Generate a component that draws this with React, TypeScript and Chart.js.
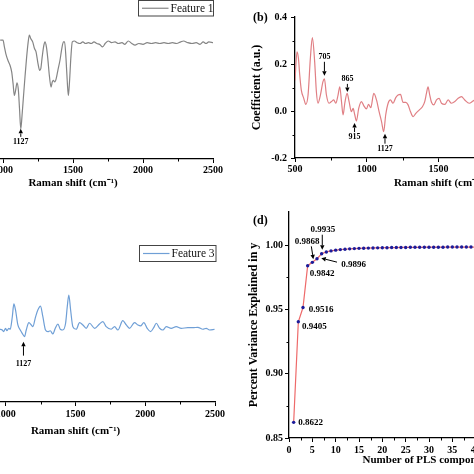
import React, { useEffect, useRef } from "react";
import { Chart, registerables } from "chart.js";
Chart.register(...registerables);

const FONT = "'Liberation Serif','Times New Roman',Times,serif";

// ---------- Panel (a) Feature 1 ----------
const aWave = [980,1000,1010,1020,1035,1050,1062,1072,1081,1090,1100,1110,1118,1127,1136,1146,1158,1169,1180,1188,1198,1212,1225,1236,1250,1262,1270,1280,1292,1300,1310,1320,1331,1343,1352,1360,1370,1380,1392,1407,1420,1432,1440,1450,1460,1467,1475,1485,1495,1510,1530,1550,1570,1590,1610,1630,1650,1670,1690,1712,1730,1752,1775,1800,1824,1850,1870,1895,1920,1943,1970,2000,2030,2060,2090,2120,2150,2180,2210,2240,2270,2290,2320,2350,2380,2407,2430,2450,2470,2500];
const aValue = [0.01,0.01,-0.03,-0.07,-0.11,-0.14,-0.18,-0.25,-0.32,-0.29,-0.245,-0.29,-0.40,-0.52,-0.44,-0.33,-0.20,-0.09,0.0,0.04,0.02,0.0,-0.04,-0.06,-0.13,-0.17,-0.16,-0.09,-0.02,0.0,-0.03,-0.10,-0.20,-0.27,-0.24,-0.23,-0.24,-0.22,-0.17,-0.11,-0.04,0.0,0.0,-0.10,-0.25,-0.32,-0.24,-0.09,0.0,0.005,-0.005,-0.01,0.0,-0.01,-0.005,-0.01,0.0,-0.01,-0.015,-0.03,-0.01,0.005,-0.005,0.0,-0.01,-0.005,-0.015,0.005,-0.01,-0.02,-0.01,-0.015,-0.005,-0.01,-0.005,-0.01,-0.005,-0.01,-0.005,-0.01,0.0,0.005,-0.005,-0.01,-0.005,-0.015,0.0,-0.01,0.0,-0.005];
const aNoteWaves = [1127];
const aNoteSides = ["below"];

// ---------- Panel (b) Coefficient ----------
const bWave = [500,514,524,533,544,561,575,591,607,621,637,649,660,677,695,705,719,737,754,770,784,800,812,824,835,847,863,877,893,905,916,928,944,963,979,998,1012,1028,1049,1068,1086,1103,1118,1132,1149,1165,1183,1202,1218,1235,1253,1272,1288,1305,1323,1342,1365,1388,1404,1416,1427,1439,1451,1467,1486,1504,1521,1544,1567,1590,1614,1637,1660,1683,1714,1742,1770,1800,1830];
const bValue = [0.13,0.252,0.224,0.153,0.089,0.054,0.028,0.068,0.224,0.312,0.21,0.082,0.033,0.068,0.125,0.137,0.068,0.033,0.04,0.047,0.033,0.068,0.103,0.04,-0.017,0.033,0.075,0.04,-0.003,0.011,-0.015,-0.043,0.011,0.04,0.023,0.009,0.028,0.014,0.075,0.047,-0.003,-0.045,-0.088,-0.017,0.033,0.047,0.033,0.057,0.068,0.071,0.037,0.037,0.026,-0.003,-0.024,-0.01,0.004,0.018,0.04,0.075,0.103,0.068,0.037,0.026,0.047,0.054,0.033,0.028,0.047,0.033,0.04,0.054,0.061,0.047,0.033,0.043,0.05,0.035,0.045];
const bNoteWaves = [705, 865, 915, 1127];
const bNoteSides = ["above", "above", "below", "below"];
const bYTicks = [-0.2, 0, 0.2, 0.4];
const bYMinor = [-0.1, 0.1, 0.3];

// ---------- Panel (c) Feature 3 ----------
const cWave = [956,975,984,999,1008,1022,1032,1047,1058,1070,1087,1104,1118,1135,1147,1166,1183,1194,1214,1230,1249,1266,1285,1302,1319,1338,1355,1374,1391,1409,1429,1441,1452,1465,1481,1505,1529,1553,1577,1601,1637,1672,1696,1720,1756,1780,1804,1839,1864,1887,1923,1947,1966,1990,2014,2038,2062,2079,2103,2126,2151,2186,2222,2258,2305,2341,2377,2413,2437,2461,2497];
const cValue = [-0.008,-0.014,-0.027,0.0,-0.02,0.0,-0.008,0.094,0.198,0.149,0.027,-0.014,-0.041,-0.068,-0.014,0.046,0.027,0.013,0.094,0.149,0.181,0.094,-0.014,-0.027,-0.02,-0.046,0.0,0.035,-0.008,-0.014,0.041,0.176,0.271,0.149,0.013,-0.008,0.046,0.027,0.0,0.041,0.0,0.035,0.054,0.013,-0.008,0.013,-0.014,0.062,0.027,0.0,0.046,0.027,0.019,0.046,0.0,-0.027,0.008,0.041,0.0,-0.014,0.013,0.0,0.013,0.0,0.005,0.005,0.008,-0.008,0.0,-0.014,-0.008];
const cNoteWaves = [915, 1127];
const cNoteSides = ["below", "below"];

// ---------- Panel (d) PLS components ----------
const dComponents = [1,2,3,4,5,6,7,8,9,10,11,12,13,14,15,16,17,18,19,20,21,22,23,24,25,26,27,28,29,30,31,32,33,34,35,36,37,38,39,40,41,42,43,44,45,46,47,48,49,50,51,52,53,54,55,56,57,58,59,60];
const dVariance = [0.8622,0.9405,0.9516,0.9842,0.9868,0.9896,0.9935,0.9949,0.9957,0.9963,0.9967,0.997,0.9973,0.9975,0.9977,0.9978,0.9979,0.998,0.9981,0.9982,0.9982,0.9983,0.9983,0.9984,0.9984,0.9985,0.9985,0.9985,0.9986,0.9986,0.9986,0.9986,0.9986,0.9987,0.9987,0.9987,0.9987,0.9987,0.9987,0.9987,0.9987,0.9988,0.9988,0.9988,0.9988,0.9988,0.9988,0.9988,0.9988,0.9988,0.9988,0.9988,0.9988,0.9988,0.9988,0.9988,0.9988,0.9988,0.9988,0.9988];
const dNoteIndex = [0, 1, 2, 3, 4, 5, 6];
const dXTicks = [0,5,10,15,20,25,30,35,40,45,50,55,60];
const dXMinor = [2.5,7.5,12.5,17.5,22.5,27.5,32.5,37.5,42.5,47.5,52.5,57.5];
const dYTicks = [0.85, 0.9, 0.95, 1.0];
const dYMinor = [0.875, 0.925, 0.975];

const ramanTicks = [500, 1000, 1500, 2000, 2500];
const ramanMinor = [750, 1250, 1750, 2250];

// label placement (pixels, relative to the noted point)
const dNoteLayout: any[] = [
  { dx: 4.7, dy: 0.5, align: "left" },
  { dx: 3.7, dy: 4.6, align: "left" },
  { dx: 5.7, dy: 2, align: "left" },
  { dx: 2, dy: 8, align: "left" },
  { dx: -5.3, dy: -20.5, align: "center", arrow: [-1, -16, 1, -3] },
  { dx: 36.5, dy: 5.7, align: "center", arrow: [20, 3.4, 4.3, -0.6] },
  { dx: 1.3, dy: -23.6, align: "center", arrow: [0.6, -19, 0.6, -4] },
];
const aNoteGeom = [{ gap: 0, len: 8, labelGap: 5 }];
const bNoteGeom = [
  { gap: 3, len: 14, labelGap: 5 },
  { gap: 1.5, len: 8, labelGap: 5 },
  { gap: 2, len: 9, labelGap: 5 },
  { gap: 2, len: 10, labelGap: 5 },
];
const cNoteGeom = [
  { gap: 5, len: 14, labelGap: 8 },
  { gap: 5, len: 14, labelGap: 8 },
];

type Note = { x: number; y: number; text: string; dx: number; dy: number; align: CanvasTextAlign; size: number; arrow?: number[] };

function drawArrow(ctx: CanvasRenderingContext2D, x1: number, y1: number, x2: number, y2: number) {
  const ang = Math.atan2(y2 - y1, x2 - x1);
  const hl = 4.5, hw = 2.2;
  const bx = x2 - Math.cos(ang) * hl, by = y2 - Math.sin(ang) * hl;
  ctx.beginPath();
  ctx.moveTo(x1, y1);
  ctx.lineTo(bx, by);
  ctx.stroke();
  ctx.beginPath();
  ctx.moveTo(x2, y2);
  ctx.lineTo(bx + Math.sin(ang) * hw, by - Math.cos(ang) * hw);
  ctx.lineTo(bx - Math.sin(ang) * hw, by + Math.cos(ang) * hw);
  ctx.closePath();
  ctx.fill();
}

const notesPlugin = (notes: Note[]) => ({
  id: "notes",
  afterDatasetsDraw(chart: any) {
    const { ctx, scales } = chart;
    ctx.save();
    ctx.fillStyle = "#000";
    ctx.strokeStyle = "#000";
    ctx.lineWidth = 1;
    for (const n of notes) {
      const px = scales.x.getPixelForValue(n.x);
      const py = scales.y.getPixelForValue(n.y);
      if (n.arrow) drawArrow(ctx, px + n.arrow[0], py + n.arrow[1], px + n.arrow[2], py + n.arrow[3]);
      ctx.font = `bold ${n.size}px ${FONT}`;
      ctx.textAlign = n.align;
      ctx.textBaseline = "middle";
      ctx.fillText(n.text, px + n.dx, py + n.dy);
    }
    ctx.restore();
  },
});

function spectralNotes(waves: number[], values: number[], noteWaves: number[], sides: string[], geom: any[]): Note[] {
  return noteWaves.map((w, i) => {
    let best = -1;
    for (let k = 0; k < waves.length; k++) {
      if (Math.abs(waves[k] - w) <= 15) {
        if (best < 0 || (sides[i] === "below" ? values[k] < values[best] : values[k] > values[best])) best = k;
      }
    }
    if (best < 0) {
      best = 0;
      for (let k = 0; k < waves.length; k++) if (Math.abs(waves[k] - w) < Math.abs(waves[best] - w)) best = k;
    }
    const g = geom[i];
    const s = sides[i] === "below" ? 1 : -1;
    return {
      x: w, y: values[best], text: String(w), dx: 0,
      dy: s * (g.gap + g.len + g.labelGap), align: "center" as CanvasTextAlign, size: 8,
      arrow: [0, s * (g.gap + g.len), 0, s * g.gap],
    };
  });
}

const minorPlugin = (specs: { axis: string; values: number[] }[]) => ({
  id: "minorTicks",
  afterDraw(chart: any) {
    const ctx = chart.ctx;
    ctx.save();
    ctx.strokeStyle = "#000";
    ctx.lineWidth = 1;
    for (const s of specs) {
      const sc = chart.scales[s.axis];
      for (const v of s.values) {
        const p = Math.round(sc.getPixelForValue(v)) + 0.5;
        ctx.beginPath();
        if (sc.isHorizontal()) {
          ctx.moveTo(p, sc.top);
          ctx.lineTo(p, sc.top + 2.5);
        } else {
          ctx.moveTo(sc.right, p);
          ctx.lineTo(sc.right - 2.5, p);
        }
        ctx.stroke();
      }
    }
    ctx.restore();
  },
});

const legendPlugin = (label: string, color: string, dxLeft: number, dyTop: number, w: number, h: number) => ({
  id: "boxLegend",
  afterDraw(chart: any) {
    const { ctx, chartArea } = chart;
    const x = Math.round(chartArea.right + dxLeft) + 0.5;
    const y = Math.round(chartArea.top + dyTop) + 0.5;
    ctx.save();
    ctx.fillStyle = "#fff";
    ctx.fillRect(x, y, w, h);
    ctx.strokeStyle = "#444";
    ctx.lineWidth = 1;
    ctx.strokeRect(x, y, w, h);
    ctx.strokeStyle = color;
    ctx.lineWidth = 1.2;
    ctx.beginPath();
    ctx.moveTo(x + 3.5, y + h / 2);
    ctx.lineTo(x + 30, y + h / 2);
    ctx.stroke();
    ctx.fillStyle = "#111";
    ctx.font = `11.5px ${FONT}`;
    ctx.textAlign = "left";
    ctx.textBaseline = "middle";
    ctx.fillText(label, x + 32, y + h / 2 + 0.5);
    ctx.restore();
  },
});

const tickFont = { family: FONT, size: 10, weight: "bold" as const };
const xTitleFont = { family: FONT, size: 11, weight: "bold" as const };
const yTitleFont = { family: FONT, size: 12, weight: "bold" as const };

function xAxis(min: number, max: number, ticks: number[], title: string, height: number, tickPad: number) {
  return {
    type: "linear", min, max, position: "bottom",
    afterBuildTicks: (s: any) => { s.ticks = ticks.map((v) => ({ value: v })); },
    afterFit: (s: any) => { s.height = height; },
    grid: { drawOnChartArea: false, drawTicks: true, tickLength: 4, tickColor: "#000", tickWidth: 1 },
    border: { display: true, color: "#000", width: 1.3 },
    ticks: { color: "#000", font: tickFont, padding: tickPad, maxRotation: 0, autoSkip: false, callback: (v: any) => String(v) },
    title: { display: true, text: title, color: "#000", font: xTitleFont, padding: 0 },
  };
}

function yAxis(min: number, max: number, ticks: number[], title: string, width: number, tickPad: number, digits: number) {
  return {
    type: "linear", min, max, position: "left",
    afterBuildTicks: (s: any) => { s.ticks = ticks.map((v) => ({ value: v })); },
    afterFit: (s: any) => { s.width = width; },
    grid: { drawOnChartArea: false, drawTicks: true, tickLength: 4, tickColor: "#000", tickWidth: 1 },
    border: { display: true, color: "#000", width: 1.3 },
    ticks: { color: "#000", font: tickFont, padding: tickPad, autoSkip: false, callback: (v: any) => Number(v).toFixed(digits) },
    title: { display: true, text: title, color: "#000", font: yTitleFont, padding: 0 },
  };
}

const baseOptions = (padding: any, scales: any) => ({
  animation: false,
  responsive: false,
  devicePixelRatio: 1,
  layout: { padding },
  plugins: { legend: { display: false }, tooltip: { enabled: false } },
  scales,
});

const spectrumDataset = (waves: number[], values: number[], color: string) => ({
  data: waves.map((w, i) => ({ x: w, y: values[i] })),
  borderColor: color,
  borderWidth: 1.2,
  pointRadius: 0,
  cubicInterpolationMode: "monotone",
  fill: false,
});

const RAMAN = "Raman shift (cm\u207B\u00B9)";

const configA = () => ({
  type: "line",
  data: { datasets: [spectrumDataset(aWave, aValue, "#858585")] },
  options: baseOptions({ left: 15, right: 20, top: 0, bottom: 0 }, {
    x: xAxis(500, 2500, ramanTicks, RAMAN, 31, 1),
    y: { type: "linear", min: -0.7, max: 0.25, display: false },
  }),
  plugins: [
    minorPlugin([{ axis: "x", values: ramanMinor }]),
    notesPlugin(spectralNotes(aWave, aValue, aNoteWaves, aNoteSides, aNoteGeom)),
    legendPlugin("Feature 1", "#858585", -74.7, 0, 75, 15.5),
  ],
});

const configB = () => ({
  type: "line",
  data: { datasets: [spectrumDataset(bWave, bValue, "#e07f84")] },
  options: baseOptions({ left: 0, right: 20, top: 14, bottom: 0 }, {
    x: xAxis(500, 2500, ramanTicks, RAMAN, 32, 1),
    y: yAxis(-0.2, 0.4, bYTicks, "Coefficient (a.u.)", 45, 4, 1),
  }),
  plugins: [
    minorPlugin([{ axis: "x", values: ramanMinor }, { axis: "y", values: bYMinor }]),
    notesPlugin(spectralNotes(bWave, bValue, bNoteWaves, bNoteSides, bNoteGeom)),
  ],
});

const configC = () => ({
  type: "line",
  data: { datasets: [spectrumDataset(cWave, cValue, "#6f9fd6")] },
  options: baseOptions({ left: 15, right: 20, top: 0, bottom: 0 }, {
    x: xAxis(500, 2500, ramanTicks, RAMAN, 36, 2),
    y: { type: "linear", min: -0.6, max: 0.8, display: false },
  }),
  plugins: [
    minorPlugin([{ axis: "x", values: ramanMinor }]),
    notesPlugin(spectralNotes(cWave, cValue, cNoteWaves, cNoteSides, cNoteGeom)),
    legendPlugin("Feature 3", "#6f9fd6", -75.7, 15.3, 76.5, 16),
  ],
});

const configD = () => ({
  type: "line",
  data: {
    datasets: [{
      data: dComponents.map((c, i) => ({ x: c, y: dVariance[i] })),
      borderColor: "#ee6a6a",
      borderWidth: 1.2,
      pointRadius: 1.7,
      pointBorderWidth: 0,
      pointBackgroundColor: "#1c1c9a",
      tension: 0,
      fill: false,
    }],
  },
  options: baseOptions({ left: 0, right: 20, top: 10, bottom: 0 }, {
    x: xAxis(0, 60, dXTicks, "Number of PLS components", 29, 2),
    y: yAxis(0.85, 1.026, dYTicks, "Percent Variance Explained in y", 42, 2, 2),
  }),
  plugins: [
    minorPlugin([{ axis: "x", values: dXMinor }, { axis: "y", values: dYMinor }]),
    notesPlugin(dNoteIndex.map((k, i) => ({
      x: dComponents[k], y: dVariance[k], text: dVariance[k].toFixed(4),
      dx: dNoteLayout[i].dx, dy: dNoteLayout[i].dy, align: dNoteLayout[i].align, size: 9,
      arrow: dNoteLayout[i].arrow,
    }))),
  ],
});

function Panel({ config, left, top, width, height }: any) {
  const ref = useRef<HTMLCanvasElement>(null);
  useEffect(() => {
    const chart = new Chart(ref.current as HTMLCanvasElement, config() as any);
    return () => chart.destroy();
  }, []);
  return (
    <canvas
      ref={ref}
      width={width}
      height={height}
      style={{ position: "absolute", left, top, width, height }}
    />
  );
}

const panelLabel = (top: number): React.CSSProperties => ({
  position: "absolute", left: 253, top, font: `bold 12px ${FONT}`, lineHeight: "14px", color: "#000",
});

export default function App() {
  return (
    <div style={{ position: "fixed", left: 0, top: 0, width: 474, height: 474, overflow: "hidden", background: "#fff" }}>
      <Panel config={configA} left={-82} top={0} width={315} height={190} />
      <Panel config={configB} left={250} top={3} width={352} height={187} />
      <Panel config={configC} left={-79} top={230} width={314} height={208} />
      <Panel config={configD} left={247} top={202} width={342} height={265} />
      <div style={panelLabel(10)}>(b)</div>
      <div style={panelLabel(213)}>(d)</div>
    </div>
  );
}
